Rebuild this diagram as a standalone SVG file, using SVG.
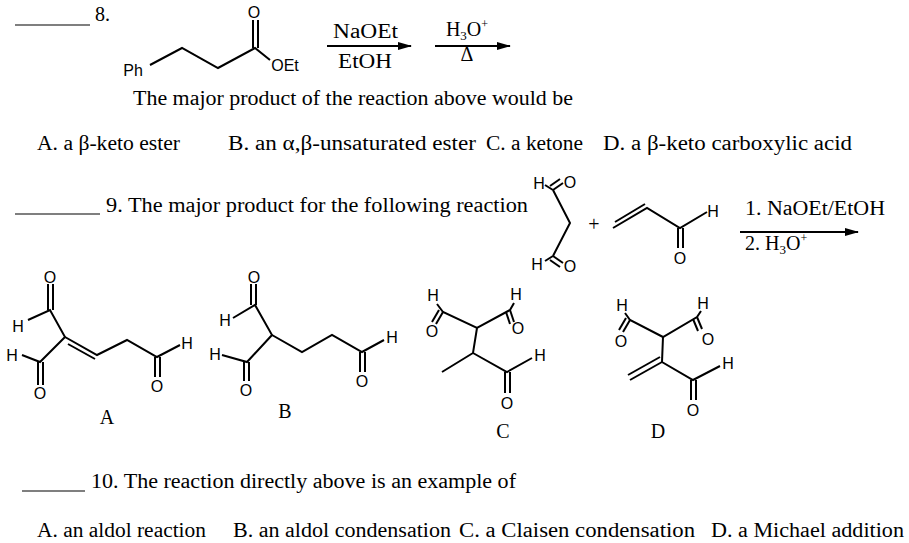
<svg xmlns="http://www.w3.org/2000/svg" width="909" height="543" viewBox="0 0 909 543">
<style>
.t{font-family:"Liberation Serif",serif;font-size:20px;fill:#000}
.a{font-family:"Liberation Sans",sans-serif;font-size:16px;fill:#000;text-anchor:middle}
.b{stroke:#000;stroke-width:2;fill:none}
.l{stroke:#000;stroke-width:1.2}
</style>
<defs><marker id="ah" markerWidth="14" markerHeight="8" refX="13" refY="4" orient="auto" markerUnits="userSpaceOnUse"><path d="M0,0 L14,4 L0,8 Z"/></marker></defs>
<rect width="909" height="543" fill="#fff"/>
<!-- Q8 -->
<line class="l" x1="15" y1="25" x2="90" y2="25"/>
<text class="t" x="95" y="21">8.</text>
<text class="a" x="133" y="76" font-size="15">Ph</text>
<polyline class="b" points="150,65 182,48 218,68 255,48 270,60"/>
<line class="b" x1="253" y1="48" x2="253" y2="20"/><line class="b" x1="258" y1="48" x2="258" y2="20"/>
<text class="a" x="254" y="18">O</text>
<text class="a" x="285" y="71" font-size="15">OEt</text>
<text class="t" x="333" y="38" textLength="65" lengthAdjust="spacingAndGlyphs">NaOEt</text>
<line class="b" x1="327" y1="46" x2="411" y2="46" marker-end="url(#ah)"/>
<text class="t" x="338" y="68" textLength="54" lengthAdjust="spacingAndGlyphs">EtOH</text>
<text class="t" x="467" y="36" text-anchor="middle">H<tspan font-size="13" dy="4">3</tspan><tspan dy="-4">O</tspan><tspan font-size="12" dy="-8">+</tspan></text>
<line class="b" x1="435" y1="46" x2="510" y2="46" marker-end="url(#ah)"/>
<text class="t" x="467" y="61" text-anchor="middle">Δ</text>
<text class="t" x="133" y="105" textLength="440" lengthAdjust="spacingAndGlyphs">The major product of the reaction above would be</text>
<text class="t" x="37" y="150" textLength="143" lengthAdjust="spacingAndGlyphs">A. a β-keto ester</text>
<text class="t" x="228" y="150" textLength="248" lengthAdjust="spacingAndGlyphs">B. an α,β-unsaturated ester</text>
<text class="t" x="486" y="150" textLength="97" lengthAdjust="spacingAndGlyphs">C. a ketone</text>
<text class="t" x="603" y="150" textLength="249" lengthAdjust="spacingAndGlyphs">D. a β-keto carboxylic acid</text>
<!-- Q9 -->
<line class="l" x1="15" y1="214" x2="100" y2="214"/>
<text class="t" x="106" y="212" textLength="422" lengthAdjust="spacingAndGlyphs">9. The major product for the following reaction</text>
<g id="malon">
<polyline class="b" points="553,190 570,223 553,256"/>
<line class="b" x1="553" y1="190" x2="545" y2="185"/>
<line class="b" x1="553" y1="190" x2="563" y2="183"/><line class="b" x1="550" y1="186" x2="560" y2="179"/>
<text class="a" x="539" y="189">H</text><text class="a" x="570" y="188">O</text>
<line class="b" x1="553" y1="256" x2="545" y2="261"/>
<line class="b" x1="553" y1="256" x2="563" y2="263"/><line class="b" x1="550" y1="260" x2="560" y2="267"/>
<text class="a" x="537" y="270">H</text><text class="a" x="570" y="272">O</text>
</g>
<text class="t" x="594" y="231" text-anchor="middle" font-size="16">+</text>
<g id="acrolein">
<polyline class="b" points="613,228 647,208 680,228 707,212"/>
<line class="b" x1="615" y1="222" x2="645" y2="204"/>
<line class="b" x1="678" y1="228" x2="678" y2="248"/><line class="b" x1="683" y1="228" x2="683" y2="248"/>
<text class="a" x="713" y="217">H</text><text class="a" x="680" y="264">O</text>
</g>
<text class="t" x="745" y="215" textLength="140" lengthAdjust="spacingAndGlyphs">1. NaOEt/EtOH</text>
<line class="b" x1="740" y1="232" x2="858" y2="232" marker-end="url(#ah)"/>
<text class="t" x="745" y="250">2. H<tspan font-size="13" dy="4">3</tspan><tspan dy="-4">O</tspan><tspan font-size="12" dy="-8">+</tspan></text>
<!-- A -->
<g id="A">
<line class="b" x1="48" y1="284" x2="48" y2="310"/><line class="b" x1="53" y1="284" x2="53" y2="310"/>
<text class="a" x="50" y="283">O</text>
<polyline class="b" points="28,320 50,310 65,337 40,362 22,355"/>
<line class="b" x1="38" y1="362" x2="38" y2="385"/><line class="b" x1="43" y1="362" x2="43" y2="385"/>
<text class="a" x="18" y="332">H</text><text class="a" x="12" y="361">H</text><text class="a" x="40" y="399">O</text>
<polyline class="b" points="65,337 97,355 127,340 157,357 180,345"/>
<line class="b" x1="68" y1="344" x2="95" y2="359"/>
<line class="b" x1="155" y1="357" x2="155" y2="377"/><line class="b" x1="160" y1="357" x2="160" y2="377"/>
<text class="a" x="187" y="349">H</text><text class="a" x="157" y="392">O</text>
<text class="t" x="107" y="424" text-anchor="middle">A</text>
</g>
<g id="B">
<line class="b" x1="251" y1="284" x2="251" y2="305"/><line class="b" x1="256" y1="284" x2="256" y2="305"/>
<text class="a" x="254" y="283">O</text>
<polyline class="b" points="233,318 255,305 272,335 247,362 222,355"/>
<line class="b" x1="244" y1="362" x2="244" y2="381"/><line class="b" x1="249" y1="362" x2="249" y2="381"/>
<text class="a" x="225" y="326">H</text><text class="a" x="215" y="360">H</text><text class="a" x="246" y="396">O</text>
<polyline class="b" points="272,335 302,352 332,335 362,352 384,340"/>
<line class="b" x1="360" y1="352" x2="360" y2="372"/><line class="b" x1="365" y1="352" x2="365" y2="372"/>
<text class="a" x="392" y="343">H</text><text class="a" x="362" y="387">O</text>
<text class="t" x="285" y="418" text-anchor="middle">B</text>
</g>
<g id="C">
<polyline class="b" points="437,304 443,312 477,328 510,310 514,303"/>
<line class="b" x1="443" y1="312" x2="436" y2="324"/><line class="b" x1="439" y1="310" x2="432" y2="322"/>
<line class="b" x1="510" y1="310" x2="514" y2="322"/><line class="b" x1="506" y1="312" x2="510" y2="324"/>
<text class="a" x="433" y="301">H</text><text class="a" x="432" y="337">O</text>
<text class="a" x="516" y="300">H</text><text class="a" x="518" y="334">O</text>
<polyline class="b" points="477,328 473,353 442,372"/>
<polyline class="b" points="473,353 507,372 532,358"/>
<line class="b" x1="505" y1="372" x2="505" y2="393"/><line class="b" x1="510" y1="372" x2="510" y2="393"/>
<text class="a" x="540" y="361">H</text><text class="a" x="507" y="409">O</text>
<text class="t" x="503" y="438" text-anchor="middle">C</text>
</g>
<g id="D">
<polyline class="b" points="625,313 630,320 663,337 697,317 701,311"/>
<line class="b" x1="630" y1="320" x2="623" y2="332"/><line class="b" x1="626" y1="318" x2="619" y2="330"/>
<line class="b" x1="697" y1="317" x2="702" y2="329"/><line class="b" x1="693" y1="319" x2="698" y2="331"/>
<text class="a" x="622" y="311">H</text><text class="a" x="621" y="347">O</text>
<text class="a" x="703" y="309">H</text><text class="a" x="708" y="345">O</text>
<polyline class="b" points="663,337 662,362 693,380 720,366"/>
<line class="b" x1="662" y1="362" x2="630" y2="380"/><line class="b" x1="660" y1="357" x2="628" y2="375"/>
<line class="b" x1="691" y1="380" x2="691" y2="400"/><line class="b" x1="696" y1="380" x2="696" y2="400"/>
<text class="a" x="728" y="369">H</text><text class="a" x="693" y="416">O</text>
<text class="t" x="658" y="438" text-anchor="middle">D</text>
</g>
<!-- Q10 -->
<line class="l" x1="22" y1="491" x2="85" y2="491"/>
<text class="t" x="91" y="488" textLength="425" lengthAdjust="spacingAndGlyphs">10. The reaction directly above is an example of</text>
<text class="t" x="37" y="537" textLength="169" lengthAdjust="spacingAndGlyphs">A. an aldol reaction</text>
<text class="t" x="233" y="537" textLength="218" lengthAdjust="spacingAndGlyphs">B. an aldol condensation</text>
<text class="t" x="459" y="537" textLength="236" lengthAdjust="spacingAndGlyphs">C. a Claisen condensation</text>
<text class="t" x="711" y="537" textLength="193" lengthAdjust="spacingAndGlyphs">D. a Michael addition</text>
</svg>
